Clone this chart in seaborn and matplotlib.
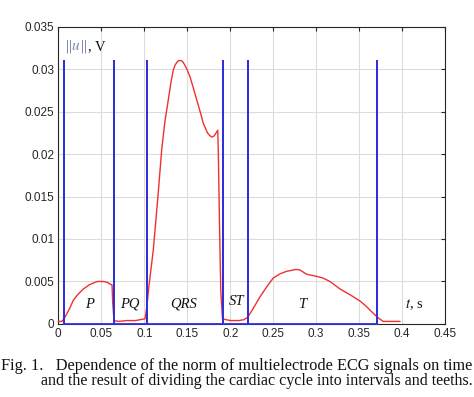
import numpy as np
import pandas as pd
import seaborn as sns
import matplotlib.pyplot as plt

# norm of the multielectrode ECG signal (red trace)
t_norm = [0.000, 0.004, 0.0066, 0.010, 0.014, 0.0175, 0.023, 0.029, 0.036, 0.0427,
          0.046, 0.049, 0.0524, 0.057, 0.060, 0.0625, 0.0633, 0.0648, 0.070, 0.080,
          0.090, 0.095, 0.1009, 0.103, 0.1055, 0.1105, 0.1155, 0.1203, 0.124, 0.128,
          0.131, 0.1338, 0.136, 0.138, 0.140, 0.1424, 0.1445, 0.147, 0.150, 0.1532,
          0.157, 0.161, 0.165, 0.1687, 0.1735, 0.176, 0.1785, 0.181, 0.183, 0.1855,
          0.1862, 0.1875, 0.189, 0.191, 0.200, 0.210, 0.216, 0.2204, 0.226, 0.2347,
          0.242, 0.250, 0.258, 0.2657, 0.271, 0.2754, 0.279, 0.282, 0.285, 0.288,
          0.291, 0.3007, 0.308, 0.316, 0.328, 0.340, 0.351, 0.358, 0.363, 0.368,
          0.3724, 0.378, 0.390, 0.3976]
v_norm = [0.0003, 0.0003, 0.0006, 0.0012, 0.0020, 0.0028, 0.0035, 0.0041, 0.0046, 0.0049,
          0.0050, 0.0050, 0.0050, 0.0049, 0.0047, 0.0046, 0.0025, 0.0004, 0.0003, 0.0004,
          0.0004, 0.0005, 0.0006, 0.0020, 0.0045, 0.0087, 0.0145, 0.0205, 0.0238, 0.0264,
          0.0284, 0.0299, 0.0305, 0.0308, 0.0310, 0.0310, 0.0309, 0.0305, 0.0299, 0.0291,
          0.0278, 0.0264, 0.0250, 0.0236, 0.0225, 0.0222, 0.0220, 0.0221, 0.0224, 0.0228,
          0.0200, 0.0120, 0.0040, 0.0006, 0.0004, 0.0004, 0.0005, 0.0008, 0.0017, 0.0032,
          0.0043, 0.0054, 0.0059, 0.0062, 0.0063, 0.0064, 0.0064, 0.0063, 0.0061, 0.0059,
          0.0058, 0.0056, 0.0054, 0.0050, 0.0041, 0.0034, 0.0027, 0.0021, 0.0016, 0.0011,
          0.0007, 0.0003, 0.0003, 0.0003]

# interval boundaries (blue markers)
bounds = [0.0066, 0.0648, 0.1029, 0.1913, 0.2204, 0.3712]
marker_height = 0.031

segments = ["P", "PQ", "QRS", "ST", "T"]
seg_label_x = [0.036, 0.083, 0.146, 0.207, 0.284]
seg_label_y = [0.0023, 0.0023, 0.0023, 0.0026, 0.0023]

xticks = [0, 0.05, 0.1, 0.15, 0.2, 0.25, 0.3, 0.35, 0.4, 0.45]
xtick_labels = ["0", "0.05", "0.1", "0.15", "0.2", "0.25", "0.3", "0.35", "0.4", "0.45"]
yticks = [0, 0.005, 0.01, 0.015, 0.02, 0.025, 0.03, 0.035]
ytick_labels = ["0", "0.005", "0.01", "0.015", "0.02", "0.025", "0.03", "0.035"]

# blue trace: spikes at each boundary joined along zero
bt, bv = [], []
for b in bounds:
    bt += [b, b, b]
    bv += [0.0, marker_height, 0.0]
blue = pd.DataFrame({"t": bt, "v": bv})
red = pd.DataFrame({"t": t_norm, "v": v_norm})

sns.set_style("white")
plt.rcParams["font.family"] = ["Liberation Sans", "DejaVu Sans"]
plt.rcParams["mathtext.fontset"] = "stix"

fig = plt.figure(figsize=(4.74, 3.97), dpi=100)
ax = fig.add_axes([0.123, 0.184, 0.816, 0.749])

sns.lineplot(data=red, x="t", y="v", ax=ax, color="#f03030", lw=1.0,
             estimator=None, sort=False)
sns.lineplot(data=blue, x="t", y="v", ax=ax, color="#3030d8", lw=1.3,
             estimator=None, sort=False)
for ln in ax.lines:
    ln.set_clip_on(False)
    ln.set_zorder(4)

ax.set_xlim(0, 0.45)
ax.set_ylim(0, 0.035)
ax.set_xticks(xticks)
ax.set_xticklabels(xtick_labels)
ax.set_yticks(yticks)
ax.set_yticklabels(ytick_labels)
ax.set_xlabel("")
ax.set_ylabel("")
ax.grid(True, color="#dcdcdc", lw=0.8)
ax.set_axisbelow(True)
ax.tick_params(direction="in", length=3, width=0.8, labelsize=8.5,
               colors="#262626", top=True, right=True, pad=3)
for s in ax.spines.values():
    s.set_color("#262626")
    s.set_linewidth(0.8)

serif = ["Liberation Serif", "DejaVu Serif"]
for name, x, y in zip(segments, seg_label_x, seg_label_y):
    ax.text(x, y, name, family=serif, style="italic", fontsize=10.5,
            ha="center", va="center", color="#111111")
ax.text(0.4035, 0.0023, r"$t$, s", family=serif, fontsize=10.5,
        ha="left", va="center", color="#111111")
norm_lbl = ax.text(0.0063, 0.0326, r"$\Vert u \Vert$", fontsize=11,
                   ha="left", va="center", color="#7c8cb8")
ax.annotate(", V", xy=(1.0, 0.5), xycoords=norm_lbl, xytext=(0.5, 0),
            textcoords="offset points", family=serif, fontsize=10.5,
            ha="left", va="center", color="#111111")

fig.text(0.003, 0.079, "Fig. 1.   Dependence of the norm of multielectrode ECG signals on time",
         family=serif, fontsize=11.7, ha="left", va="center", color="#111111")
fig.text(0.998, 0.041, "and the result of dividing the cardiac cycle into intervals and teeths.",
         family=serif, fontsize=11.5, ha="right", va="center", color="#111111")

fig.savefig("out.png", dpi=100)
